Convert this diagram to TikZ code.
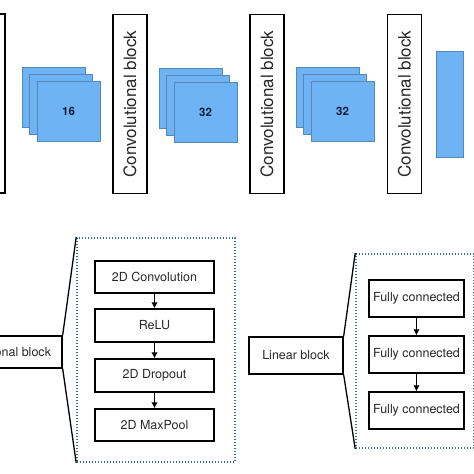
\documentclass[tikz,border=0pt]{standalone}
\usepackage{fontspec}
\setmainfont{TeX Gyre Heros}
\usetikzlibrary{arrows.meta}
\tikzset{>={Latex[length=6pt,width=6.5pt]}}
\definecolor{mapblue}{RGB}{110,180,245}
\definecolor{mapedge}{RGB}{85,135,185}
\definecolor{dotblue}{RGB}{60,105,145}
\definecolor{txtgray}{RGB}{40,40,40}
\definecolor{numblue}{RGB}{15,30,55}

\begin{document}
\begin{tikzpicture}[x=1pt,y=-1pt]
\useasboundingbox (0,0) rectangle (474,474);
\clip (0,0) rectangle (474,474);
% top row
\begin{scope}[every node/.style={draw,line width=1.5pt,fill=white,inner sep=0pt,
    text=txtgray,font=\fontsize{17}{20}\selectfont}]
\node[minimum width=45pt,minimum height=179pt] (in) at (-17.5,103.5) {};
\node[rotate=90,minimum width=179pt,minimum height=34pt] (cb1) at (130,104) {Convolutional block};
\node[rotate=90,minimum width=179pt,minimum height=34pt] (cb2) at (267,104) {Convolutional block};
\node[rotate=90,minimum width=179pt,minimum height=34pt] (cb3) at (404.5,104) {Convolutional block};
\end{scope}
\begin{scope}[every node/.style={draw=mapedge,line width=0.8pt,fill=mapblue,inner sep=0pt,
    minimum width=63pt,minimum height=60pt,text=numblue,font=\fontsize{11.5}{13}\selectfont\bfseries}]
\node (f1c) at (53.5,97) {};
\node (f1b) at (61,104) {};
\node (f1a) at (68.5,111) {16};
\node (f2c) at (190.5,98) {};
\node (f2b) at (198,105) {};
\node (f2a) at (205.5,112) {32};
\node (f3c) at (327.5,97) {};
\node (f3b) at (335,104) {};
\node (f3a) at (342.5,111) {32};
\node[minimum width=27pt,minimum height=106pt] (vec) at (449.5,104) {};
\end{scope}
% bottom row
\begin{scope}[every node/.style={draw=dotblue,line width=1.6pt,dash pattern=on 1.4pt off 1.6pt,
    inner sep=0pt}]
\node[minimum width=158pt,minimum height=224pt] (cbox) at (156,350) {};
\node[minimum width=118pt,minimum height=194pt] (lbox) at (415,351) {};
\end{scope}
\begin{scope}[every node/.style={draw,line width=1.3pt,fill=white,inner sep=0pt,
    text=txtgray,font=\fontsize{12.5}{15}\selectfont}]
\node[minimum width=130pt,minimum height=32pt] (cbl) at (-3,352) {Convolutional block};
\node[minimum width=119pt,minimum height=32pt] (conv) at (154.5,277) {2D Convolution};
\node[minimum width=119pt,minimum height=33pt] (relu) at (154.5,325.5) {ReLU};
\node[minimum width=119pt,minimum height=33pt] (drop) at (154.5,375.5) {2D Dropout};
\node[minimum width=119pt,minimum height=32pt] (pool) at (154.5,425) {2D MaxPool};
\node[minimum width=94pt,minimum height=37pt] (lin) at (296,355.5) {Linear block};
\node[minimum width=95pt,minimum height=37pt] (fc1) at (416.5,298.5) {Fully connected};
\node[minimum width=95pt,minimum height=37pt] (fc2) at (416.5,354.5) {Fully connected};
\node[minimum width=95pt,minimum height=37pt] (fc3) at (416.5,410.5) {Fully connected};
\end{scope}
\begin{scope}[every edge/.style={draw=black,line width=1.3pt}]
    \path [->] (conv) edge (relu);
    \path [->] (relu) edge (drop);
    \path [->] (drop) edge (pool);
    \path [->] (fc1) edge (fc2);
    \path [->] (fc2) edge (fc3);

    \path (cbl.north east) edge (cbox.north west);
    \path (cbl.south east) edge (cbox.south west);
    \path (lin.north east) edge (lbox.north west);
    \path (lin.south east) edge (lbox.south west);
\end{scope}
\end{tikzpicture}
\end{document}
